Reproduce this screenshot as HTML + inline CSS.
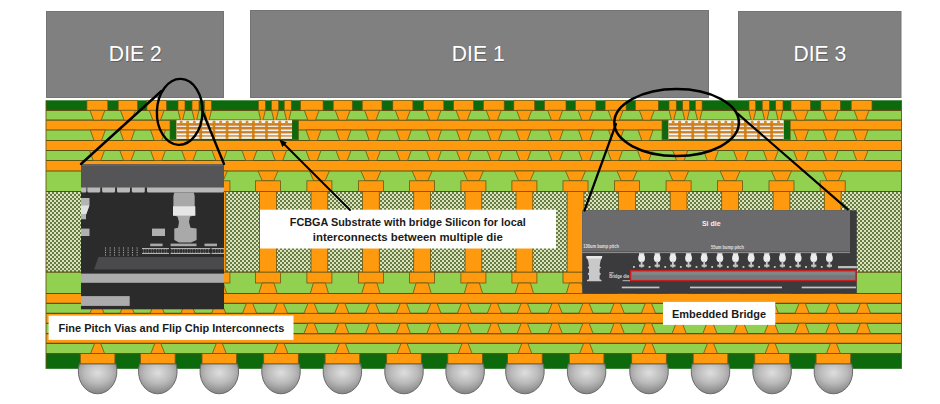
<!DOCTYPE html>
<html><head><meta charset="utf-8"><style>
html,body{margin:0;padding:0;background:#fff;overflow:hidden;width:940px;height:404px;}
svg{display:block;}
.die{font-family:"Liberation Sans",sans-serif;font-size:22.5px;}
.lbl{font-family:"Liberation Sans",sans-serif;font-size:11.8px;font-weight:bold;fill:#1a1a1a;}
.tiny{font-family:"Liberation Sans",sans-serif;}
</style></head><body>
<svg width="940" height="404" viewBox="0 0 940 404">
<defs>
<pattern id="chk" x="0" y="0" width="4" height="4" patternUnits="userSpaceOnUse">
<rect width="4" height="4" fill="#DAE2BE"/>
<rect width="2" height="2" fill="#667C42"/><rect x="2" y="2" width="2" height="2" fill="#667C42"/>
</pattern>
<radialGradient id="ball" cx="0.5" cy="0.3" r="0.65">
<stop offset="0" stop-color="#dedede"/><stop offset="0.55" stop-color="#b9b9b9"/><stop offset="1" stop-color="#8a8a8a"/>
</radialGradient>
</defs>
<rect width="940" height="404" fill="#fff"/>
<rect x="46.5" y="11.5" width="177" height="86" fill="#808080" stroke="#747474" stroke-width="1"/>
<rect x="250.5" y="10.5" width="458" height="87" fill="#808080" stroke="#747474" stroke-width="1"/>
<rect x="738.5" y="11.5" width="162.5" height="86" fill="#808080" stroke="#747474" stroke-width="1"/>
<text transform="translate(136.00,62.0) scale(0.94,1)" class="die" fill="#4a4a4a" fill-opacity="0.6" text-anchor="middle">DIE 2</text>
<text transform="translate(135.30,61.3) scale(0.94,1)" class="die" fill="#fff" text-anchor="middle">DIE 2</text>
<text transform="translate(478.90,62.0) scale(0.94,1)" class="die" fill="#4a4a4a" fill-opacity="0.6" text-anchor="middle">DIE 1</text>
<text transform="translate(478.20,61.3) scale(0.94,1)" class="die" fill="#fff" text-anchor="middle">DIE 1</text>
<text transform="translate(820.60,62.0) scale(0.94,1)" class="die" fill="#4a4a4a" fill-opacity="0.6" text-anchor="middle">DIE 3</text>
<text transform="translate(819.90,61.3) scale(0.94,1)" class="die" fill="#fff" text-anchor="middle">DIE 3</text>
<rect x="46.00" y="100.30" width="855.50" height="10.00" fill="#0C690C"/>
<rect x="46.00" y="110.30" width="855.50" height="9.90" fill="#92D050"/>
<rect x="46.00" y="120.20" width="855.50" height="9.80" fill="#FF9A0E"/>
<rect x="46.00" y="130.00" width="855.50" height="10.50" fill="#92D050"/>
<rect x="46.00" y="140.50" width="855.50" height="10.00" fill="#FF9A0E"/>
<rect x="46.00" y="150.50" width="855.50" height="10.00" fill="#92D050"/>
<rect x="46.00" y="160.50" width="855.50" height="10.50" fill="#FF9A0E"/>
<rect x="46.00" y="171.00" width="855.50" height="20.50" fill="#92D050"/>
<rect x="46.00" y="191.50" width="855.50" height="80.70" fill="url(#chk)"/>
<rect x="46.00" y="272.20" width="855.50" height="21.30" fill="#92D050"/>
<rect x="46.00" y="293.50" width="855.50" height="9.90" fill="#FF9A0E"/>
<rect x="46.00" y="303.40" width="855.50" height="10.00" fill="#92D050"/>
<rect x="46.00" y="313.40" width="855.50" height="9.90" fill="#FF9A0E"/>
<rect x="46.00" y="323.30" width="855.50" height="10.30" fill="#92D050"/>
<rect x="46.00" y="333.60" width="855.50" height="9.80" fill="#FF9A0E"/>
<rect x="46.00" y="343.40" width="855.50" height="10.20" fill="#92D050"/>
<rect x="46.00" y="353.60" width="855.50" height="15.20" fill="#0C690C"/>
<line x1="46.0" y1="110.3" x2="901.5" y2="110.3" stroke="#5E5210" stroke-width="1.2"/>
<line x1="46.0" y1="120.2" x2="901.5" y2="120.2" stroke="#5E5210" stroke-width="1.2"/>
<line x1="46.0" y1="130.0" x2="901.5" y2="130.0" stroke="#5E5210" stroke-width="1.2"/>
<line x1="46.0" y1="140.5" x2="901.5" y2="140.5" stroke="#5E5210" stroke-width="1.2"/>
<line x1="46.0" y1="150.5" x2="901.5" y2="150.5" stroke="#5E5210" stroke-width="1.2"/>
<line x1="46.0" y1="160.5" x2="901.5" y2="160.5" stroke="#5E5210" stroke-width="1.2"/>
<line x1="46.0" y1="171.0" x2="901.5" y2="171.0" stroke="#5E5210" stroke-width="1.2"/>
<line x1="46.0" y1="191.5" x2="901.5" y2="191.5" stroke="#5E5210" stroke-width="1.2"/>
<line x1="46.0" y1="272.2" x2="901.5" y2="272.2" stroke="#5E5210" stroke-width="1.2"/>
<line x1="46.0" y1="293.5" x2="901.5" y2="293.5" stroke="#5E5210" stroke-width="1.2"/>
<line x1="46.0" y1="303.4" x2="901.5" y2="303.4" stroke="#5E5210" stroke-width="1.2"/>
<line x1="46.0" y1="313.4" x2="901.5" y2="313.4" stroke="#5E5210" stroke-width="1.2"/>
<line x1="46.0" y1="323.3" x2="901.5" y2="323.3" stroke="#5E5210" stroke-width="1.2"/>
<line x1="46.0" y1="333.6" x2="901.5" y2="333.6" stroke="#5E5210" stroke-width="1.2"/>
<line x1="46.0" y1="343.4" x2="901.5" y2="343.4" stroke="#5E5210" stroke-width="1.2"/>
<line x1="46.0" y1="353.6" x2="901.5" y2="353.6" stroke="#5E5210" stroke-width="1.2"/>
<line x1="46.0" y1="100.3" x2="46.0" y2="368.8" stroke="#685812" stroke-width="0.9"/>
<line x1="901.5" y1="100.3" x2="901.5" y2="368.8" stroke="#685812" stroke-width="0.9"/>
<rect x="86.90" y="100.30" width="20.90" height="10.00" fill="#FF9A0E" stroke="#685812" stroke-width="0.7"/>
<rect x="118.20" y="100.30" width="19.40" height="10.00" fill="#FF9A0E" stroke="#685812" stroke-width="0.7"/>
<rect x="146.90" y="100.30" width="19.70" height="10.00" fill="#FF9A0E" stroke="#685812" stroke-width="0.7"/>
<rect x="178.00" y="100.30" width="7.00" height="10.00" fill="#FF9A0E" stroke="#685812" stroke-width="0.7"/>
<rect x="192.00" y="100.30" width="7.00" height="10.00" fill="#FF9A0E" stroke="#685812" stroke-width="0.7"/>
<rect x="204.50" y="100.30" width="7.00" height="10.00" fill="#FF9A0E" stroke="#685812" stroke-width="0.7"/>
<rect x="258.30" y="100.30" width="7.20" height="10.00" fill="#FF9A0E" stroke="#685812" stroke-width="0.7"/>
<rect x="271.30" y="100.30" width="7.40" height="10.00" fill="#FF9A0E" stroke="#685812" stroke-width="0.7"/>
<rect x="284.20" y="100.30" width="7.10" height="10.00" fill="#FF9A0E" stroke="#685812" stroke-width="0.7"/>
<rect x="300.40" y="100.30" width="22.70" height="10.00" fill="#FF9A0E" stroke="#685812" stroke-width="0.7"/>
<rect x="333.20" y="100.30" width="19.10" height="10.00" fill="#FF9A0E" stroke="#685812" stroke-width="0.7"/>
<rect x="362.20" y="100.30" width="19.80" height="10.00" fill="#FF9A0E" stroke="#685812" stroke-width="0.7"/>
<rect x="392.80" y="100.30" width="20.10" height="10.00" fill="#FF9A0E" stroke="#685812" stroke-width="0.7"/>
<rect x="423.30" y="100.30" width="20.50" height="10.00" fill="#FF9A0E" stroke="#685812" stroke-width="0.7"/>
<rect x="453.50" y="100.30" width="20.10" height="10.00" fill="#FF9A0E" stroke="#685812" stroke-width="0.7"/>
<rect x="483.30" y="100.30" width="20.90" height="10.00" fill="#FF9A0E" stroke="#685812" stroke-width="0.7"/>
<rect x="513.80" y="100.30" width="20.90" height="10.00" fill="#FF9A0E" stroke="#685812" stroke-width="0.7"/>
<rect x="544.50" y="100.30" width="21.50" height="10.00" fill="#FF9A0E" stroke="#685812" stroke-width="0.7"/>
<rect x="575.30" y="100.30" width="20.60" height="10.00" fill="#FF9A0E" stroke="#685812" stroke-width="0.7"/>
<rect x="605.10" y="100.30" width="21.00" height="10.00" fill="#FF9A0E" stroke="#685812" stroke-width="0.7"/>
<rect x="635.30" y="100.30" width="23.10" height="10.00" fill="#FF9A0E" stroke="#685812" stroke-width="0.7"/>
<rect x="669.00" y="100.30" width="7.30" height="10.00" fill="#FF9A0E" stroke="#685812" stroke-width="0.7"/>
<rect x="682.60" y="100.30" width="6.80" height="10.00" fill="#FF9A0E" stroke="#685812" stroke-width="0.7"/>
<rect x="695.30" y="100.30" width="6.80" height="10.00" fill="#FF9A0E" stroke="#685812" stroke-width="0.7"/>
<rect x="749.00" y="100.30" width="6.70" height="10.00" fill="#FF9A0E" stroke="#685812" stroke-width="0.7"/>
<rect x="762.20" y="100.30" width="7.20" height="10.00" fill="#FF9A0E" stroke="#685812" stroke-width="0.7"/>
<rect x="775.70" y="100.30" width="7.30" height="10.00" fill="#FF9A0E" stroke="#685812" stroke-width="0.7"/>
<rect x="791.00" y="100.30" width="19.40" height="10.00" fill="#FF9A0E" stroke="#685812" stroke-width="0.7"/>
<rect x="820.80" y="100.30" width="19.60" height="10.00" fill="#FF9A0E" stroke="#685812" stroke-width="0.7"/>
<rect x="851.20" y="100.30" width="20.80" height="10.00" fill="#FF9A0E" stroke="#685812" stroke-width="0.7"/>
<polygon points="89.90,110.30 104.90,110.30 101.15,120.20 93.65,120.20" fill="#FF9A0E" stroke="#685812" stroke-width="0.8"/>
<polygon points="120.40,110.30 135.40,110.30 131.65,120.20 124.15,120.20" fill="#FF9A0E" stroke="#685812" stroke-width="0.8"/>
<polygon points="149.20,110.30 164.20,110.30 160.45,120.20 152.95,120.20" fill="#FF9A0E" stroke="#685812" stroke-width="0.8"/>
<polygon points="304.20,110.30 319.20,110.30 315.45,120.20 307.95,120.20" fill="#FF9A0E" stroke="#685812" stroke-width="0.8"/>
<polygon points="335.20,110.30 350.20,110.30 346.45,120.20 338.95,120.20" fill="#FF9A0E" stroke="#685812" stroke-width="0.8"/>
<polygon points="364.60,110.30 379.60,110.30 375.85,120.20 368.35,120.20" fill="#FF9A0E" stroke="#685812" stroke-width="0.8"/>
<polygon points="395.30,110.30 410.30,110.30 406.55,120.20 399.05,120.20" fill="#FF9A0E" stroke="#685812" stroke-width="0.8"/>
<polygon points="426.00,110.30 441.00,110.30 437.25,120.20 429.75,120.20" fill="#FF9A0E" stroke="#685812" stroke-width="0.8"/>
<polygon points="456.00,110.30 471.00,110.30 467.25,120.20 459.75,120.20" fill="#FF9A0E" stroke="#685812" stroke-width="0.8"/>
<polygon points="486.20,110.30 501.20,110.30 497.45,120.20 489.95,120.20" fill="#FF9A0E" stroke="#685812" stroke-width="0.8"/>
<polygon points="516.70,110.30 531.70,110.30 527.95,120.20 520.45,120.20" fill="#FF9A0E" stroke="#685812" stroke-width="0.8"/>
<polygon points="547.70,110.30 562.70,110.30 558.95,120.20 551.45,120.20" fill="#FF9A0E" stroke="#685812" stroke-width="0.8"/>
<polygon points="578.10,110.30 593.10,110.30 589.35,120.20 581.85,120.20" fill="#FF9A0E" stroke="#685812" stroke-width="0.8"/>
<polygon points="608.10,110.30 623.10,110.30 619.35,120.20 611.85,120.20" fill="#FF9A0E" stroke="#685812" stroke-width="0.8"/>
<polygon points="639.30,110.30 654.30,110.30 650.55,120.20 643.05,120.20" fill="#FF9A0E" stroke="#685812" stroke-width="0.8"/>
<polygon points="793.20,110.30 808.20,110.30 804.45,120.20 796.95,120.20" fill="#FF9A0E" stroke="#685812" stroke-width="0.8"/>
<polygon points="823.10,110.30 838.10,110.30 834.35,120.20 826.85,120.20" fill="#FF9A0E" stroke="#685812" stroke-width="0.8"/>
<polygon points="854.10,110.30 869.10,110.30 865.35,120.20 857.85,120.20" fill="#FF9A0E" stroke="#685812" stroke-width="0.8"/>
<polygon points="178.00,110.30 185.00,110.30 182.25,121.50 180.75,121.50" fill="#FF9A0E" stroke="#685812" stroke-width="0.8"/>
<polygon points="192.00,110.30 199.00,110.30 196.25,121.50 194.75,121.50" fill="#FF9A0E" stroke="#685812" stroke-width="0.8"/>
<polygon points="204.50,110.30 211.50,110.30 208.75,121.50 207.25,121.50" fill="#FF9A0E" stroke="#685812" stroke-width="0.8"/>
<polygon points="258.40,110.30 265.40,110.30 262.65,121.50 261.15,121.50" fill="#FF9A0E" stroke="#685812" stroke-width="0.8"/>
<polygon points="271.50,110.30 278.50,110.30 275.75,121.50 274.25,121.50" fill="#FF9A0E" stroke="#685812" stroke-width="0.8"/>
<polygon points="284.20,110.30 291.20,110.30 288.45,121.50 286.95,121.50" fill="#FF9A0E" stroke="#685812" stroke-width="0.8"/>
<polygon points="669.10,110.30 676.10,110.30 673.35,121.50 671.85,121.50" fill="#FF9A0E" stroke="#685812" stroke-width="0.8"/>
<polygon points="682.50,110.30 689.50,110.30 686.75,121.50 685.25,121.50" fill="#FF9A0E" stroke="#685812" stroke-width="0.8"/>
<polygon points="695.20,110.30 702.20,110.30 699.45,121.50 697.95,121.50" fill="#FF9A0E" stroke="#685812" stroke-width="0.8"/>
<polygon points="748.80,110.30 755.80,110.30 753.05,121.50 751.55,121.50" fill="#FF9A0E" stroke="#685812" stroke-width="0.8"/>
<polygon points="762.30,110.30 769.30,110.30 766.55,121.50 765.05,121.50" fill="#FF9A0E" stroke="#685812" stroke-width="0.8"/>
<polygon points="775.80,110.30 782.80,110.30 780.05,121.50 778.55,121.50" fill="#FF9A0E" stroke="#685812" stroke-width="0.8"/>
<polygon points="90.30,130.00 105.30,130.00 101.55,140.50 94.05,140.50" fill="#FF9A0E" stroke="#685812" stroke-width="0.8"/>
<polygon points="119.80,130.00 134.80,130.00 131.05,140.50 123.55,140.50" fill="#FF9A0E" stroke="#685812" stroke-width="0.8"/>
<polygon points="150.50,130.00 165.50,130.00 161.75,140.50 154.25,140.50" fill="#FF9A0E" stroke="#685812" stroke-width="0.8"/>
<polygon points="306.00,130.00 321.00,130.00 317.25,140.50 309.75,140.50" fill="#FF9A0E" stroke="#685812" stroke-width="0.8"/>
<polygon points="336.00,130.00 351.00,130.00 347.25,140.50 339.75,140.50" fill="#FF9A0E" stroke="#685812" stroke-width="0.8"/>
<polygon points="365.50,130.00 380.50,130.00 376.75,140.50 369.25,140.50" fill="#FF9A0E" stroke="#685812" stroke-width="0.8"/>
<polygon points="396.30,130.00 411.30,130.00 407.55,140.50 400.05,140.50" fill="#FF9A0E" stroke="#685812" stroke-width="0.8"/>
<polygon points="426.50,130.00 441.50,130.00 437.75,140.50 430.25,140.50" fill="#FF9A0E" stroke="#685812" stroke-width="0.8"/>
<polygon points="456.50,130.00 471.50,130.00 467.75,140.50 460.25,140.50" fill="#FF9A0E" stroke="#685812" stroke-width="0.8"/>
<polygon points="487.20,130.00 502.20,130.00 498.45,140.50 490.95,140.50" fill="#FF9A0E" stroke="#685812" stroke-width="0.8"/>
<polygon points="516.10,130.00 531.10,130.00 527.35,140.50 519.85,140.50" fill="#FF9A0E" stroke="#685812" stroke-width="0.8"/>
<polygon points="548.20,130.00 563.20,130.00 559.45,140.50 551.95,140.50" fill="#FF9A0E" stroke="#685812" stroke-width="0.8"/>
<polygon points="578.50,130.00 593.50,130.00 589.75,140.50 582.25,140.50" fill="#FF9A0E" stroke="#685812" stroke-width="0.8"/>
<polygon points="608.50,130.00 623.50,130.00 619.75,140.50 612.25,140.50" fill="#FF9A0E" stroke="#685812" stroke-width="0.8"/>
<polygon points="638.10,130.00 653.10,130.00 649.35,140.50 641.85,140.50" fill="#FF9A0E" stroke="#685812" stroke-width="0.8"/>
<polygon points="793.50,130.00 808.50,130.00 804.75,140.50 797.25,140.50" fill="#FF9A0E" stroke="#685812" stroke-width="0.8"/>
<polygon points="823.00,130.00 838.00,130.00 834.25,140.50 826.75,140.50" fill="#FF9A0E" stroke="#685812" stroke-width="0.8"/>
<polygon points="853.00,130.00 868.00,130.00 864.25,140.50 856.75,140.50" fill="#FF9A0E" stroke="#685812" stroke-width="0.8"/>
<polygon points="89.50,150.50 104.50,150.50 100.75,160.50 93.25,160.50" fill="#FF9A0E" stroke="#685812" stroke-width="0.8"/>
<polygon points="119.80,150.50 134.80,150.50 131.05,160.50 123.55,160.50" fill="#FF9A0E" stroke="#685812" stroke-width="0.8"/>
<polygon points="150.50,150.50 165.50,150.50 161.75,160.50 154.25,160.50" fill="#FF9A0E" stroke="#685812" stroke-width="0.8"/>
<polygon points="181.70,150.50 196.70,150.50 192.95,160.50 185.45,160.50" fill="#FF9A0E" stroke="#685812" stroke-width="0.8"/>
<polygon points="212.00,150.50 227.00,150.50 223.25,160.50 215.75,160.50" fill="#FF9A0E" stroke="#685812" stroke-width="0.8"/>
<polygon points="241.90,150.50 256.90,150.50 253.15,160.50 245.65,160.50" fill="#FF9A0E" stroke="#685812" stroke-width="0.8"/>
<polygon points="271.50,150.50 286.50,150.50 282.75,160.50 275.25,160.50" fill="#FF9A0E" stroke="#685812" stroke-width="0.8"/>
<polygon points="306.00,150.50 321.00,150.50 317.25,160.50 309.75,160.50" fill="#FF9A0E" stroke="#685812" stroke-width="0.8"/>
<polygon points="336.00,150.50 351.00,150.50 347.25,160.50 339.75,160.50" fill="#FF9A0E" stroke="#685812" stroke-width="0.8"/>
<polygon points="365.50,150.50 380.50,150.50 376.75,160.50 369.25,160.50" fill="#FF9A0E" stroke="#685812" stroke-width="0.8"/>
<polygon points="396.30,150.50 411.30,150.50 407.55,160.50 400.05,160.50" fill="#FF9A0E" stroke="#685812" stroke-width="0.8"/>
<polygon points="426.50,150.50 441.50,150.50 437.75,160.50 430.25,160.50" fill="#FF9A0E" stroke="#685812" stroke-width="0.8"/>
<polygon points="456.50,150.50 471.50,150.50 467.75,160.50 460.25,160.50" fill="#FF9A0E" stroke="#685812" stroke-width="0.8"/>
<polygon points="487.20,150.50 502.20,150.50 498.45,160.50 490.95,160.50" fill="#FF9A0E" stroke="#685812" stroke-width="0.8"/>
<polygon points="516.10,150.50 531.10,150.50 527.35,160.50 519.85,160.50" fill="#FF9A0E" stroke="#685812" stroke-width="0.8"/>
<polygon points="548.20,150.50 563.20,150.50 559.45,160.50 551.95,160.50" fill="#FF9A0E" stroke="#685812" stroke-width="0.8"/>
<polygon points="578.50,150.50 593.50,150.50 589.75,160.50 582.25,160.50" fill="#FF9A0E" stroke="#685812" stroke-width="0.8"/>
<polygon points="607.50,150.50 622.50,150.50 618.75,160.50 611.25,160.50" fill="#FF9A0E" stroke="#685812" stroke-width="0.8"/>
<polygon points="637.50,150.50 652.50,150.50 648.75,160.50 641.25,160.50" fill="#FF9A0E" stroke="#685812" stroke-width="0.8"/>
<polygon points="672.80,150.50 687.80,150.50 684.05,160.50 676.55,160.50" fill="#FF9A0E" stroke="#685812" stroke-width="0.8"/>
<polygon points="703.50,150.50 718.50,150.50 714.75,160.50 707.25,160.50" fill="#FF9A0E" stroke="#685812" stroke-width="0.8"/>
<polygon points="733.50,150.50 748.50,150.50 744.75,160.50 737.25,160.50" fill="#FF9A0E" stroke="#685812" stroke-width="0.8"/>
<polygon points="763.30,150.50 778.30,150.50 774.55,160.50 767.05,160.50" fill="#FF9A0E" stroke="#685812" stroke-width="0.8"/>
<polygon points="793.50,150.50 808.50,150.50 804.75,160.50 797.25,160.50" fill="#FF9A0E" stroke="#685812" stroke-width="0.8"/>
<polygon points="823.00,150.50 838.00,150.50 834.25,160.50 826.75,160.50" fill="#FF9A0E" stroke="#685812" stroke-width="0.8"/>
<polygon points="853.00,150.50 868.00,150.50 864.25,160.50 856.75,160.50" fill="#FF9A0E" stroke="#685812" stroke-width="0.8"/>
<polygon points="207.40,171.00 227.40,171.00 223.10,180.80 211.70,180.80" fill="#FF9A0E" stroke="#685812" stroke-width="0.8"/>
<rect x="204.90" y="180.80" width="25.00" height="10.70" fill="#FF9A0E" stroke="#685812" stroke-width="0.8"/>
<rect x="209.00" y="191.50" width="16.80" height="80.70" fill="#FF9A0E" stroke="#685812" stroke-width="0.8"/>
<rect x="204.90" y="272.20" width="25.00" height="10.80" fill="#FF9A0E" stroke="#685812" stroke-width="0.8"/>
<polygon points="211.40,283.00 223.40,283.00 226.55,293.50 208.25,293.50" fill="#FF9A0E" stroke="#685812" stroke-width="0.8"/>
<polygon points="258.00,171.00 278.00,171.00 273.70,180.80 262.30,180.80" fill="#FF9A0E" stroke="#685812" stroke-width="0.8"/>
<rect x="255.50" y="180.80" width="25.00" height="10.70" fill="#FF9A0E" stroke="#685812" stroke-width="0.8"/>
<rect x="259.60" y="191.50" width="16.80" height="80.70" fill="#FF9A0E" stroke="#685812" stroke-width="0.8"/>
<rect x="255.50" y="272.20" width="25.00" height="10.80" fill="#FF9A0E" stroke="#685812" stroke-width="0.8"/>
<polygon points="262.00,283.00 274.00,283.00 277.15,293.50 258.85,293.50" fill="#FF9A0E" stroke="#685812" stroke-width="0.8"/>
<polygon points="309.40,171.00 329.40,171.00 325.10,180.80 313.70,180.80" fill="#FF9A0E" stroke="#685812" stroke-width="0.8"/>
<rect x="306.90" y="180.80" width="25.00" height="10.70" fill="#FF9A0E" stroke="#685812" stroke-width="0.8"/>
<rect x="311.00" y="191.50" width="16.80" height="80.70" fill="#FF9A0E" stroke="#685812" stroke-width="0.8"/>
<rect x="306.90" y="272.20" width="25.00" height="10.80" fill="#FF9A0E" stroke="#685812" stroke-width="0.8"/>
<polygon points="313.40,283.00 325.40,283.00 328.55,293.50 310.25,293.50" fill="#FF9A0E" stroke="#685812" stroke-width="0.8"/>
<polygon points="360.90,171.00 380.90,171.00 376.60,180.80 365.20,180.80" fill="#FF9A0E" stroke="#685812" stroke-width="0.8"/>
<rect x="358.40" y="180.80" width="25.00" height="10.70" fill="#FF9A0E" stroke="#685812" stroke-width="0.8"/>
<rect x="362.50" y="191.50" width="16.80" height="80.70" fill="#FF9A0E" stroke="#685812" stroke-width="0.8"/>
<rect x="358.40" y="272.20" width="25.00" height="10.80" fill="#FF9A0E" stroke="#685812" stroke-width="0.8"/>
<polygon points="364.90,283.00 376.90,283.00 380.05,293.50 361.75,293.50" fill="#FF9A0E" stroke="#685812" stroke-width="0.8"/>
<polygon points="412.10,171.00 432.10,171.00 427.80,180.80 416.40,180.80" fill="#FF9A0E" stroke="#685812" stroke-width="0.8"/>
<rect x="409.60" y="180.80" width="25.00" height="10.70" fill="#FF9A0E" stroke="#685812" stroke-width="0.8"/>
<rect x="413.70" y="191.50" width="16.80" height="80.70" fill="#FF9A0E" stroke="#685812" stroke-width="0.8"/>
<rect x="409.60" y="272.20" width="25.00" height="10.80" fill="#FF9A0E" stroke="#685812" stroke-width="0.8"/>
<polygon points="416.10,283.00 428.10,283.00 431.25,293.50 412.95,293.50" fill="#FF9A0E" stroke="#685812" stroke-width="0.8"/>
<polygon points="463.40,171.00 483.40,171.00 479.10,180.80 467.70,180.80" fill="#FF9A0E" stroke="#685812" stroke-width="0.8"/>
<rect x="460.90" y="180.80" width="25.00" height="10.70" fill="#FF9A0E" stroke="#685812" stroke-width="0.8"/>
<rect x="465.00" y="191.50" width="16.80" height="80.70" fill="#FF9A0E" stroke="#685812" stroke-width="0.8"/>
<rect x="460.90" y="272.20" width="25.00" height="10.80" fill="#FF9A0E" stroke="#685812" stroke-width="0.8"/>
<polygon points="467.40,283.00 479.40,283.00 482.55,293.50 464.25,293.50" fill="#FF9A0E" stroke="#685812" stroke-width="0.8"/>
<polygon points="514.40,171.00 534.40,171.00 530.10,180.80 518.70,180.80" fill="#FF9A0E" stroke="#685812" stroke-width="0.8"/>
<rect x="511.90" y="180.80" width="25.00" height="10.70" fill="#FF9A0E" stroke="#685812" stroke-width="0.8"/>
<rect x="516.00" y="191.50" width="16.80" height="80.70" fill="#FF9A0E" stroke="#685812" stroke-width="0.8"/>
<rect x="511.90" y="272.20" width="25.00" height="10.80" fill="#FF9A0E" stroke="#685812" stroke-width="0.8"/>
<polygon points="518.40,283.00 530.40,283.00 533.55,293.50 515.25,293.50" fill="#FF9A0E" stroke="#685812" stroke-width="0.8"/>
<polygon points="565.50,171.00 585.50,171.00 581.20,180.80 569.80,180.80" fill="#FF9A0E" stroke="#685812" stroke-width="0.8"/>
<rect x="563.00" y="180.80" width="25.00" height="10.70" fill="#FF9A0E" stroke="#685812" stroke-width="0.8"/>
<rect x="567.10" y="191.50" width="16.80" height="80.70" fill="#FF9A0E" stroke="#685812" stroke-width="0.8"/>
<rect x="563.00" y="272.20" width="25.00" height="10.80" fill="#FF9A0E" stroke="#685812" stroke-width="0.8"/>
<polygon points="569.50,283.00 581.50,283.00 584.65,293.50 566.35,293.50" fill="#FF9A0E" stroke="#685812" stroke-width="0.8"/>
<polygon points="617.00,171.00 637.00,171.00 632.70,180.80 621.30,180.80" fill="#FF9A0E" stroke="#685812" stroke-width="0.8"/>
<rect x="614.50" y="180.80" width="25.00" height="10.70" fill="#FF9A0E" stroke="#685812" stroke-width="0.8"/>
<rect x="618.60" y="191.50" width="16.80" height="80.70" fill="#FF9A0E" stroke="#685812" stroke-width="0.8"/>
<rect x="614.50" y="272.20" width="25.00" height="10.80" fill="#FF9A0E" stroke="#685812" stroke-width="0.8"/>
<polygon points="621.00,283.00 633.00,283.00 636.15,293.50 617.85,293.50" fill="#FF9A0E" stroke="#685812" stroke-width="0.8"/>
<polygon points="668.60,171.00 688.60,171.00 684.30,180.80 672.90,180.80" fill="#FF9A0E" stroke="#685812" stroke-width="0.8"/>
<rect x="666.10" y="180.80" width="25.00" height="10.70" fill="#FF9A0E" stroke="#685812" stroke-width="0.8"/>
<rect x="670.20" y="191.50" width="16.80" height="80.70" fill="#FF9A0E" stroke="#685812" stroke-width="0.8"/>
<rect x="666.10" y="272.20" width="25.00" height="10.80" fill="#FF9A0E" stroke="#685812" stroke-width="0.8"/>
<polygon points="672.60,283.00 684.60,283.00 687.75,293.50 669.45,293.50" fill="#FF9A0E" stroke="#685812" stroke-width="0.8"/>
<polygon points="720.10,171.00 740.10,171.00 735.80,180.80 724.40,180.80" fill="#FF9A0E" stroke="#685812" stroke-width="0.8"/>
<rect x="717.60" y="180.80" width="25.00" height="10.70" fill="#FF9A0E" stroke="#685812" stroke-width="0.8"/>
<rect x="721.70" y="191.50" width="16.80" height="80.70" fill="#FF9A0E" stroke="#685812" stroke-width="0.8"/>
<rect x="717.60" y="272.20" width="25.00" height="10.80" fill="#FF9A0E" stroke="#685812" stroke-width="0.8"/>
<polygon points="724.10,283.00 736.10,283.00 739.25,293.50 720.95,293.50" fill="#FF9A0E" stroke="#685812" stroke-width="0.8"/>
<polygon points="771.50,171.00 791.50,171.00 787.20,180.80 775.80,180.80" fill="#FF9A0E" stroke="#685812" stroke-width="0.8"/>
<rect x="769.00" y="180.80" width="25.00" height="10.70" fill="#FF9A0E" stroke="#685812" stroke-width="0.8"/>
<rect x="773.10" y="191.50" width="16.80" height="80.70" fill="#FF9A0E" stroke="#685812" stroke-width="0.8"/>
<rect x="769.00" y="272.20" width="25.00" height="10.80" fill="#FF9A0E" stroke="#685812" stroke-width="0.8"/>
<polygon points="775.50,283.00 787.50,283.00 790.65,293.50 772.35,293.50" fill="#FF9A0E" stroke="#685812" stroke-width="0.8"/>
<polygon points="822.70,171.00 842.70,171.00 838.40,180.80 827.00,180.80" fill="#FF9A0E" stroke="#685812" stroke-width="0.8"/>
<rect x="820.20" y="180.80" width="25.00" height="10.70" fill="#FF9A0E" stroke="#685812" stroke-width="0.8"/>
<rect x="824.30" y="191.50" width="16.80" height="80.70" fill="#FF9A0E" stroke="#685812" stroke-width="0.8"/>
<rect x="820.20" y="272.20" width="25.00" height="10.80" fill="#FF9A0E" stroke="#685812" stroke-width="0.8"/>
<polygon points="826.70,283.00 838.70,283.00 841.85,293.50 823.55,293.50" fill="#FF9A0E" stroke="#685812" stroke-width="0.8"/>
<polygon points="93.90,303.40 100.10,303.40 104.15,313.40 89.85,313.40" fill="#FF9A0E" stroke="#685812" stroke-width="0.8"/>
<polygon points="93.90,323.30 100.10,323.30 104.15,333.60 89.85,333.60" fill="#FF9A0E" stroke="#685812" stroke-width="0.8"/>
<polygon points="124.00,303.40 130.20,303.40 134.25,313.40 119.95,313.40" fill="#FF9A0E" stroke="#685812" stroke-width="0.8"/>
<polygon points="124.00,323.30 130.20,323.30 134.25,333.60 119.95,333.60" fill="#FF9A0E" stroke="#685812" stroke-width="0.8"/>
<polygon points="154.10,303.40 160.30,303.40 164.35,313.40 150.05,313.40" fill="#FF9A0E" stroke="#685812" stroke-width="0.8"/>
<polygon points="154.10,323.30 160.30,323.30 164.35,333.60 150.05,333.60" fill="#FF9A0E" stroke="#685812" stroke-width="0.8"/>
<polygon points="184.85,303.40 191.05,303.40 195.10,313.40 180.80,313.40" fill="#FF9A0E" stroke="#685812" stroke-width="0.8"/>
<polygon points="184.85,323.30 191.05,323.30 195.10,333.60 180.80,333.60" fill="#FF9A0E" stroke="#685812" stroke-width="0.8"/>
<polygon points="215.60,303.40 221.80,303.40 225.85,313.40 211.55,313.40" fill="#FF9A0E" stroke="#685812" stroke-width="0.8"/>
<polygon points="215.60,323.30 221.80,323.30 225.85,333.60 211.55,333.60" fill="#FF9A0E" stroke="#685812" stroke-width="0.8"/>
<polygon points="246.45,303.40 252.65,303.40 256.70,313.40 242.40,313.40" fill="#FF9A0E" stroke="#685812" stroke-width="0.8"/>
<polygon points="246.45,323.30 252.65,323.30 256.70,333.60 242.40,333.60" fill="#FF9A0E" stroke="#685812" stroke-width="0.8"/>
<polygon points="277.30,303.40 283.50,303.40 287.55,313.40 273.25,313.40" fill="#FF9A0E" stroke="#685812" stroke-width="0.8"/>
<polygon points="277.30,323.30 283.50,323.30 287.55,333.60 273.25,333.60" fill="#FF9A0E" stroke="#685812" stroke-width="0.8"/>
<polygon points="308.00,303.40 314.20,303.40 318.25,313.40 303.95,313.40" fill="#FF9A0E" stroke="#685812" stroke-width="0.8"/>
<polygon points="308.00,323.30 314.20,323.30 318.25,333.60 303.95,333.60" fill="#FF9A0E" stroke="#685812" stroke-width="0.8"/>
<polygon points="338.70,303.40 344.90,303.40 348.95,313.40 334.65,313.40" fill="#FF9A0E" stroke="#685812" stroke-width="0.8"/>
<polygon points="338.70,323.30 344.90,323.30 348.95,333.60 334.65,333.60" fill="#FF9A0E" stroke="#685812" stroke-width="0.8"/>
<polygon points="369.50,303.40 375.70,303.40 379.75,313.40 365.45,313.40" fill="#FF9A0E" stroke="#685812" stroke-width="0.8"/>
<polygon points="369.50,323.30 375.70,323.30 379.75,333.60 365.45,333.60" fill="#FF9A0E" stroke="#685812" stroke-width="0.8"/>
<polygon points="400.30,303.40 406.50,303.40 410.55,313.40 396.25,313.40" fill="#FF9A0E" stroke="#685812" stroke-width="0.8"/>
<polygon points="400.30,323.30 406.50,323.30 410.55,333.60 396.25,333.60" fill="#FF9A0E" stroke="#685812" stroke-width="0.8"/>
<polygon points="430.85,303.40 437.05,303.40 441.10,313.40 426.80,313.40" fill="#FF9A0E" stroke="#685812" stroke-width="0.8"/>
<polygon points="430.85,323.30 437.05,323.30 441.10,333.60 426.80,333.60" fill="#FF9A0E" stroke="#685812" stroke-width="0.8"/>
<polygon points="461.40,303.40 467.60,303.40 471.65,313.40 457.35,313.40" fill="#FF9A0E" stroke="#685812" stroke-width="0.8"/>
<polygon points="461.40,323.30 467.60,323.30 471.65,333.60 457.35,333.60" fill="#FF9A0E" stroke="#685812" stroke-width="0.8"/>
<polygon points="491.30,303.40 497.50,303.40 501.55,313.40 487.25,313.40" fill="#FF9A0E" stroke="#685812" stroke-width="0.8"/>
<polygon points="491.30,323.30 497.50,323.30 501.55,333.60 487.25,333.60" fill="#FF9A0E" stroke="#685812" stroke-width="0.8"/>
<polygon points="521.20,303.40 527.40,303.40 531.45,313.40 517.15,313.40" fill="#FF9A0E" stroke="#685812" stroke-width="0.8"/>
<polygon points="521.20,323.30 527.40,323.30 531.45,333.60 517.15,333.60" fill="#FF9A0E" stroke="#685812" stroke-width="0.8"/>
<polygon points="552.05,303.40 558.25,303.40 562.30,313.40 548.00,313.40" fill="#FF9A0E" stroke="#685812" stroke-width="0.8"/>
<polygon points="552.05,323.30 558.25,323.30 562.30,333.60 548.00,333.60" fill="#FF9A0E" stroke="#685812" stroke-width="0.8"/>
<polygon points="582.90,303.40 589.10,303.40 593.15,313.40 578.85,313.40" fill="#FF9A0E" stroke="#685812" stroke-width="0.8"/>
<polygon points="582.90,323.30 589.10,323.30 593.15,333.60 578.85,333.60" fill="#FF9A0E" stroke="#685812" stroke-width="0.8"/>
<polygon points="614.10,303.40 620.30,303.40 624.35,313.40 610.05,313.40" fill="#FF9A0E" stroke="#685812" stroke-width="0.8"/>
<polygon points="614.10,323.30 620.30,323.30 624.35,333.60 610.05,333.60" fill="#FF9A0E" stroke="#685812" stroke-width="0.8"/>
<polygon points="645.30,303.40 651.50,303.40 655.55,313.40 641.25,313.40" fill="#FF9A0E" stroke="#685812" stroke-width="0.8"/>
<polygon points="645.30,323.30 651.50,323.30 655.55,333.60 641.25,333.60" fill="#FF9A0E" stroke="#685812" stroke-width="0.8"/>
<polygon points="676.05,303.40 682.25,303.40 686.30,313.40 672.00,313.40" fill="#FF9A0E" stroke="#685812" stroke-width="0.8"/>
<polygon points="676.05,323.30 682.25,323.30 686.30,333.60 672.00,333.60" fill="#FF9A0E" stroke="#685812" stroke-width="0.8"/>
<polygon points="706.80,303.40 713.00,303.40 717.05,313.40 702.75,313.40" fill="#FF9A0E" stroke="#685812" stroke-width="0.8"/>
<polygon points="706.80,323.30 713.00,323.30 717.05,333.60 702.75,333.60" fill="#FF9A0E" stroke="#685812" stroke-width="0.8"/>
<polygon points="737.60,303.40 743.80,303.40 747.85,313.40 733.55,313.40" fill="#FF9A0E" stroke="#685812" stroke-width="0.8"/>
<polygon points="737.60,323.30 743.80,323.30 747.85,333.60 733.55,333.60" fill="#FF9A0E" stroke="#685812" stroke-width="0.8"/>
<polygon points="768.40,303.40 774.60,303.40 778.65,313.40 764.35,313.40" fill="#FF9A0E" stroke="#685812" stroke-width="0.8"/>
<polygon points="768.40,323.30 774.60,323.30 778.65,333.60 764.35,333.60" fill="#FF9A0E" stroke="#685812" stroke-width="0.8"/>
<polygon points="799.05,303.40 805.25,303.40 809.30,313.40 795.00,313.40" fill="#FF9A0E" stroke="#685812" stroke-width="0.8"/>
<polygon points="799.05,323.30 805.25,323.30 809.30,333.60 795.00,333.60" fill="#FF9A0E" stroke="#685812" stroke-width="0.8"/>
<polygon points="829.70,303.40 835.90,303.40 839.95,313.40 825.65,313.40" fill="#FF9A0E" stroke="#685812" stroke-width="0.8"/>
<polygon points="829.70,323.30 835.90,323.30 839.95,333.60 825.65,333.60" fill="#FF9A0E" stroke="#685812" stroke-width="0.8"/>
<polygon points="860.40,303.40 866.60,303.40 870.65,313.40 856.35,313.40" fill="#FF9A0E" stroke="#685812" stroke-width="0.8"/>
<polygon points="860.40,323.30 866.60,323.30 870.65,333.60 856.35,333.60" fill="#FF9A0E" stroke="#685812" stroke-width="0.8"/>
<polygon points="94.60,343.40 100.60,343.40 104.60,353.60 90.60,353.60" fill="#FF9A0E" stroke="#685812" stroke-width="0.8"/>
<rect x="80.30" y="353.60" width="34.60" height="10.20" fill="#FF9A0E" stroke="#685812" stroke-width="0.8"/>
<polygon points="154.80,343.40 160.80,343.40 164.80,353.60 150.80,353.60" fill="#FF9A0E" stroke="#685812" stroke-width="0.8"/>
<rect x="140.50" y="353.60" width="34.60" height="10.20" fill="#FF9A0E" stroke="#685812" stroke-width="0.8"/>
<polygon points="216.30,343.40 222.30,343.40 226.30,353.60 212.30,353.60" fill="#FF9A0E" stroke="#685812" stroke-width="0.8"/>
<rect x="202.00" y="353.60" width="34.60" height="10.20" fill="#FF9A0E" stroke="#685812" stroke-width="0.8"/>
<polygon points="278.00,343.40 284.00,343.40 288.00,353.60 274.00,353.60" fill="#FF9A0E" stroke="#685812" stroke-width="0.8"/>
<rect x="263.70" y="353.60" width="34.60" height="10.20" fill="#FF9A0E" stroke="#685812" stroke-width="0.8"/>
<polygon points="339.40,343.40 345.40,343.40 349.40,353.60 335.40,353.60" fill="#FF9A0E" stroke="#685812" stroke-width="0.8"/>
<rect x="325.10" y="353.60" width="34.60" height="10.20" fill="#FF9A0E" stroke="#685812" stroke-width="0.8"/>
<polygon points="401.00,343.40 407.00,343.40 411.00,353.60 397.00,353.60" fill="#FF9A0E" stroke="#685812" stroke-width="0.8"/>
<rect x="386.70" y="353.60" width="34.60" height="10.20" fill="#FF9A0E" stroke="#685812" stroke-width="0.8"/>
<polygon points="462.10,343.40 468.10,343.40 472.10,353.60 458.10,353.60" fill="#FF9A0E" stroke="#685812" stroke-width="0.8"/>
<rect x="447.80" y="353.60" width="34.60" height="10.20" fill="#FF9A0E" stroke="#685812" stroke-width="0.8"/>
<polygon points="521.90,343.40 527.90,343.40 531.90,353.60 517.90,353.60" fill="#FF9A0E" stroke="#685812" stroke-width="0.8"/>
<rect x="507.60" y="353.60" width="34.60" height="10.20" fill="#FF9A0E" stroke="#685812" stroke-width="0.8"/>
<polygon points="583.60,343.40 589.60,343.40 593.60,353.60 579.60,353.60" fill="#FF9A0E" stroke="#685812" stroke-width="0.8"/>
<rect x="569.30" y="353.60" width="34.60" height="10.20" fill="#FF9A0E" stroke="#685812" stroke-width="0.8"/>
<polygon points="646.00,343.40 652.00,343.40 656.00,353.60 642.00,353.60" fill="#FF9A0E" stroke="#685812" stroke-width="0.8"/>
<rect x="631.70" y="353.60" width="34.60" height="10.20" fill="#FF9A0E" stroke="#685812" stroke-width="0.8"/>
<polygon points="707.50,343.40 713.50,343.40 717.50,353.60 703.50,353.60" fill="#FF9A0E" stroke="#685812" stroke-width="0.8"/>
<rect x="693.20" y="353.60" width="34.60" height="10.20" fill="#FF9A0E" stroke="#685812" stroke-width="0.8"/>
<polygon points="769.10,343.40 775.10,343.40 779.10,353.60 765.10,353.60" fill="#FF9A0E" stroke="#685812" stroke-width="0.8"/>
<rect x="754.80" y="353.60" width="34.60" height="10.20" fill="#FF9A0E" stroke="#685812" stroke-width="0.8"/>
<polygon points="830.40,343.40 836.40,343.40 840.40,353.60 826.40,353.60" fill="#FF9A0E" stroke="#685812" stroke-width="0.8"/>
<rect x="816.10" y="353.60" width="34.60" height="10.20" fill="#FF9A0E" stroke="#685812" stroke-width="0.8"/>
<rect x="170.00" y="120.20" width="6.50" height="19.60" fill="#0C690C" stroke="#685812" stroke-width="0.6"/>
<rect x="292.00" y="120.20" width="6.50" height="19.60" fill="#0C690C" stroke="#685812" stroke-width="0.6"/>
<rect x="176.50" y="120.20" width="115.50" height="19.60" fill="#f6f3ea"/>
<rect x="176.50" y="123.10" width="115.50" height="2.60" fill="#C8822F"/>
<rect x="176.50" y="126.90" width="115.50" height="2.60" fill="#C8822F"/>
<rect x="176.50" y="131.10" width="115.50" height="2.30" fill="#C8822F"/>
<rect x="176.50" y="135.30" width="115.50" height="1.30" fill="#C8822F"/>
<rect x="176.50" y="138.90" width="115.50" height="1.20" fill="#2f5a14"/>
<rect x="186.30" y="121.50" width="2.60" height="17.40" fill="#D58418"/>
<ellipse cx="187.60" cy="124.4" rx="1.8" ry="1.1" fill="#D07E14"/>
<ellipse cx="187.60" cy="128.2" rx="1.8" ry="1.1" fill="#D07E14"/>
<ellipse cx="187.60" cy="132.2" rx="1.8" ry="1.1" fill="#D07E14"/>
<ellipse cx="187.60" cy="136" rx="1.8" ry="1.1" fill="#D07E14"/>
<rect x="199.45" y="121.50" width="2.60" height="17.40" fill="#D58418"/>
<ellipse cx="200.75" cy="124.4" rx="1.8" ry="1.1" fill="#D07E14"/>
<ellipse cx="200.75" cy="128.2" rx="1.8" ry="1.1" fill="#D07E14"/>
<ellipse cx="200.75" cy="132.2" rx="1.8" ry="1.1" fill="#D07E14"/>
<ellipse cx="200.75" cy="136" rx="1.8" ry="1.1" fill="#D07E14"/>
<rect x="212.60" y="121.50" width="2.60" height="17.40" fill="#D58418"/>
<ellipse cx="213.90" cy="124.4" rx="1.8" ry="1.1" fill="#D07E14"/>
<ellipse cx="213.90" cy="128.2" rx="1.8" ry="1.1" fill="#D07E14"/>
<ellipse cx="213.90" cy="132.2" rx="1.8" ry="1.1" fill="#D07E14"/>
<ellipse cx="213.90" cy="136" rx="1.8" ry="1.1" fill="#D07E14"/>
<rect x="225.75" y="121.50" width="2.60" height="17.40" fill="#D58418"/>
<ellipse cx="227.05" cy="124.4" rx="1.8" ry="1.1" fill="#D07E14"/>
<ellipse cx="227.05" cy="128.2" rx="1.8" ry="1.1" fill="#D07E14"/>
<ellipse cx="227.05" cy="132.2" rx="1.8" ry="1.1" fill="#D07E14"/>
<ellipse cx="227.05" cy="136" rx="1.8" ry="1.1" fill="#D07E14"/>
<rect x="238.90" y="121.50" width="2.60" height="17.40" fill="#D58418"/>
<ellipse cx="240.20" cy="124.4" rx="1.8" ry="1.1" fill="#D07E14"/>
<ellipse cx="240.20" cy="128.2" rx="1.8" ry="1.1" fill="#D07E14"/>
<ellipse cx="240.20" cy="132.2" rx="1.8" ry="1.1" fill="#D07E14"/>
<ellipse cx="240.20" cy="136" rx="1.8" ry="1.1" fill="#D07E14"/>
<rect x="252.05" y="121.50" width="2.60" height="17.40" fill="#D58418"/>
<ellipse cx="253.35" cy="124.4" rx="1.8" ry="1.1" fill="#D07E14"/>
<ellipse cx="253.35" cy="128.2" rx="1.8" ry="1.1" fill="#D07E14"/>
<ellipse cx="253.35" cy="132.2" rx="1.8" ry="1.1" fill="#D07E14"/>
<ellipse cx="253.35" cy="136" rx="1.8" ry="1.1" fill="#D07E14"/>
<rect x="265.20" y="121.50" width="2.60" height="17.40" fill="#D58418"/>
<ellipse cx="266.50" cy="124.4" rx="1.8" ry="1.1" fill="#D07E14"/>
<ellipse cx="266.50" cy="128.2" rx="1.8" ry="1.1" fill="#D07E14"/>
<ellipse cx="266.50" cy="132.2" rx="1.8" ry="1.1" fill="#D07E14"/>
<ellipse cx="266.50" cy="136" rx="1.8" ry="1.1" fill="#D07E14"/>
<rect x="278.35" y="121.50" width="2.60" height="17.40" fill="#D58418"/>
<ellipse cx="279.65" cy="124.4" rx="1.8" ry="1.1" fill="#D07E14"/>
<ellipse cx="279.65" cy="128.2" rx="1.8" ry="1.1" fill="#D07E14"/>
<ellipse cx="279.65" cy="132.2" rx="1.8" ry="1.1" fill="#D07E14"/>
<ellipse cx="279.65" cy="136" rx="1.8" ry="1.1" fill="#D07E14"/>
<circle cx="181.20" cy="121.9" r="1.5" fill="#D88A1E"/>
<circle cx="187.78" cy="121.9" r="1.5" fill="#D88A1E"/>
<circle cx="194.36" cy="121.9" r="1.5" fill="#D88A1E"/>
<circle cx="200.94" cy="121.9" r="1.5" fill="#D88A1E"/>
<circle cx="207.52" cy="121.9" r="1.5" fill="#D88A1E"/>
<circle cx="214.10" cy="121.9" r="1.5" fill="#D88A1E"/>
<circle cx="220.68" cy="121.9" r="1.5" fill="#D88A1E"/>
<circle cx="227.26" cy="121.9" r="1.5" fill="#D88A1E"/>
<circle cx="233.84" cy="121.9" r="1.5" fill="#D88A1E"/>
<circle cx="240.42" cy="121.9" r="1.5" fill="#D88A1E"/>
<circle cx="247.00" cy="121.9" r="1.5" fill="#D88A1E"/>
<circle cx="253.58" cy="121.9" r="1.5" fill="#D88A1E"/>
<circle cx="260.16" cy="121.9" r="1.5" fill="#D88A1E"/>
<circle cx="266.74" cy="121.9" r="1.5" fill="#D88A1E"/>
<circle cx="273.32" cy="121.9" r="1.5" fill="#D88A1E"/>
<circle cx="279.90" cy="121.9" r="1.5" fill="#D88A1E"/>
<circle cx="286.48" cy="121.9" r="1.5" fill="#D88A1E"/>
<rect x="662.00" y="120.20" width="6.50" height="19.60" fill="#0C690C" stroke="#685812" stroke-width="0.6"/>
<rect x="783.70" y="120.20" width="6.50" height="19.60" fill="#0C690C" stroke="#685812" stroke-width="0.6"/>
<rect x="668.50" y="120.20" width="115.20" height="19.60" fill="#f6f3ea"/>
<rect x="668.50" y="123.10" width="115.20" height="2.60" fill="#C8822F"/>
<rect x="668.50" y="126.90" width="115.20" height="2.60" fill="#C8822F"/>
<rect x="668.50" y="131.10" width="115.20" height="2.30" fill="#C8822F"/>
<rect x="668.50" y="135.30" width="115.20" height="1.30" fill="#C8822F"/>
<rect x="668.50" y="138.90" width="115.20" height="1.20" fill="#2f5a14"/>
<rect x="678.30" y="121.50" width="2.60" height="17.40" fill="#D58418"/>
<ellipse cx="679.60" cy="124.4" rx="1.8" ry="1.1" fill="#D07E14"/>
<ellipse cx="679.60" cy="128.2" rx="1.8" ry="1.1" fill="#D07E14"/>
<ellipse cx="679.60" cy="132.2" rx="1.8" ry="1.1" fill="#D07E14"/>
<ellipse cx="679.60" cy="136" rx="1.8" ry="1.1" fill="#D07E14"/>
<rect x="691.45" y="121.50" width="2.60" height="17.40" fill="#D58418"/>
<ellipse cx="692.75" cy="124.4" rx="1.8" ry="1.1" fill="#D07E14"/>
<ellipse cx="692.75" cy="128.2" rx="1.8" ry="1.1" fill="#D07E14"/>
<ellipse cx="692.75" cy="132.2" rx="1.8" ry="1.1" fill="#D07E14"/>
<ellipse cx="692.75" cy="136" rx="1.8" ry="1.1" fill="#D07E14"/>
<rect x="704.60" y="121.50" width="2.60" height="17.40" fill="#D58418"/>
<ellipse cx="705.90" cy="124.4" rx="1.8" ry="1.1" fill="#D07E14"/>
<ellipse cx="705.90" cy="128.2" rx="1.8" ry="1.1" fill="#D07E14"/>
<ellipse cx="705.90" cy="132.2" rx="1.8" ry="1.1" fill="#D07E14"/>
<ellipse cx="705.90" cy="136" rx="1.8" ry="1.1" fill="#D07E14"/>
<rect x="717.75" y="121.50" width="2.60" height="17.40" fill="#D58418"/>
<ellipse cx="719.05" cy="124.4" rx="1.8" ry="1.1" fill="#D07E14"/>
<ellipse cx="719.05" cy="128.2" rx="1.8" ry="1.1" fill="#D07E14"/>
<ellipse cx="719.05" cy="132.2" rx="1.8" ry="1.1" fill="#D07E14"/>
<ellipse cx="719.05" cy="136" rx="1.8" ry="1.1" fill="#D07E14"/>
<rect x="730.90" y="121.50" width="2.60" height="17.40" fill="#D58418"/>
<ellipse cx="732.20" cy="124.4" rx="1.8" ry="1.1" fill="#D07E14"/>
<ellipse cx="732.20" cy="128.2" rx="1.8" ry="1.1" fill="#D07E14"/>
<ellipse cx="732.20" cy="132.2" rx="1.8" ry="1.1" fill="#D07E14"/>
<ellipse cx="732.20" cy="136" rx="1.8" ry="1.1" fill="#D07E14"/>
<rect x="744.05" y="121.50" width="2.60" height="17.40" fill="#D58418"/>
<ellipse cx="745.35" cy="124.4" rx="1.8" ry="1.1" fill="#D07E14"/>
<ellipse cx="745.35" cy="128.2" rx="1.8" ry="1.1" fill="#D07E14"/>
<ellipse cx="745.35" cy="132.2" rx="1.8" ry="1.1" fill="#D07E14"/>
<ellipse cx="745.35" cy="136" rx="1.8" ry="1.1" fill="#D07E14"/>
<rect x="757.20" y="121.50" width="2.60" height="17.40" fill="#D58418"/>
<ellipse cx="758.50" cy="124.4" rx="1.8" ry="1.1" fill="#D07E14"/>
<ellipse cx="758.50" cy="128.2" rx="1.8" ry="1.1" fill="#D07E14"/>
<ellipse cx="758.50" cy="132.2" rx="1.8" ry="1.1" fill="#D07E14"/>
<ellipse cx="758.50" cy="136" rx="1.8" ry="1.1" fill="#D07E14"/>
<rect x="770.35" y="121.50" width="2.60" height="17.40" fill="#D58418"/>
<ellipse cx="771.65" cy="124.4" rx="1.8" ry="1.1" fill="#D07E14"/>
<ellipse cx="771.65" cy="128.2" rx="1.8" ry="1.1" fill="#D07E14"/>
<ellipse cx="771.65" cy="132.2" rx="1.8" ry="1.1" fill="#D07E14"/>
<ellipse cx="771.65" cy="136" rx="1.8" ry="1.1" fill="#D07E14"/>
<circle cx="673.20" cy="121.9" r="1.5" fill="#D88A1E"/>
<circle cx="679.78" cy="121.9" r="1.5" fill="#D88A1E"/>
<circle cx="686.36" cy="121.9" r="1.5" fill="#D88A1E"/>
<circle cx="692.94" cy="121.9" r="1.5" fill="#D88A1E"/>
<circle cx="699.52" cy="121.9" r="1.5" fill="#D88A1E"/>
<circle cx="706.10" cy="121.9" r="1.5" fill="#D88A1E"/>
<circle cx="712.68" cy="121.9" r="1.5" fill="#D88A1E"/>
<circle cx="719.26" cy="121.9" r="1.5" fill="#D88A1E"/>
<circle cx="725.84" cy="121.9" r="1.5" fill="#D88A1E"/>
<circle cx="732.42" cy="121.9" r="1.5" fill="#D88A1E"/>
<circle cx="739.00" cy="121.9" r="1.5" fill="#D88A1E"/>
<circle cx="745.58" cy="121.9" r="1.5" fill="#D88A1E"/>
<circle cx="752.16" cy="121.9" r="1.5" fill="#D88A1E"/>
<circle cx="758.74" cy="121.9" r="1.5" fill="#D88A1E"/>
<circle cx="765.32" cy="121.9" r="1.5" fill="#D88A1E"/>
<circle cx="771.90" cy="121.9" r="1.5" fill="#D88A1E"/>
<circle cx="778.48" cy="121.9" r="1.5" fill="#D88A1E"/>
<g>
<rect x="81.00" y="164.40" width="143.00" height="144.90" fill="#2b2b2c"/>
<rect x="81.00" y="164.40" width="143.00" height="23.50" fill="#555557"/>
<rect x="81.00" y="164.40" width="143.00" height="1.20" fill="#6a6a6a"/>
<path d="M81,187.6 H86.4 V191 Q86.4,192.6 84.9,192.6 H82.5 Q81,192.6 81,191 Z" fill="#b9b9b9"/>
<path d="M87.3,187.6 H100.3 V191 Q100.3,192.6 98.8,192.6 H88.8 Q87.3,192.6 87.3,191 Z" fill="#b9b9b9"/>
<path d="M102.1,187.6 H115.1 V191 Q115.1,192.6 113.6,192.6 H103.6 Q102.1,192.6 102.1,191 Z" fill="#b9b9b9"/>
<path d="M117,187.6 H130 V191 Q130,192.6 128.5,192.6 H118.5 Q117,192.6 117,191 Z" fill="#b9b9b9"/>
<path d="M131.8,187.6 H144.8 V191 Q144.8,192.6 143.3,192.6 H133.3 Q131.8,192.6 131.8,191 Z" fill="#b9b9b9"/>
<path d="M147,187.6 H224 V191 Q224,192.6 222.5,192.6 H148.5 Q147,192.6 147,191 Z" fill="#b9b9b9"/>
<polygon points="81,198 89.5,198 89.5,205.4 86,215 86,219.3 81,219.3" fill="#b4b4b4"/>
<polygon points="81,205.4 89.3,205.4 86.3,214 81,214" fill="#e2e2e2"/>
<rect x="81.00" y="228.60" width="8.50" height="7.40" fill="#b0b0b0"/>
<polygon points="174.3,192.4 193.8,192.4 194.7,196 194.7,206.3 195.3,215.6 190,216.5 189,222 190.5,227.7 196.6,228.5 196.6,240 191,242.5 179,242.5 174.3,240 174.3,228.5 178,227.7 179,222 177.5,216.5 173,215.6 173.4,206.3 173.4,196" fill="#a9a9a9"/>
<rect x="173.00" y="206.30" width="22.30" height="9.30" fill="#e6e6e6"/>
<rect x="152.00" y="228.60" width="13.00" height="7.40" fill="#b0b0b0"/>
<rect x="150.20" y="243.60" width="12.40" height="2.60" fill="#a8a8a8"/>
<rect x="170.60" y="243.60" width="25.90" height="2.60" fill="#a8a8a8"/>
<rect x="204.50" y="243.60" width="12.50" height="2.60" fill="#a8a8a8"/>
<polygon points="98.5,257 224,257 224,269.4 94,269.4" fill="#4a4a4c"/>
<rect x="105.15" y="247.40" width="0.90" height="1.20" fill="#bcbcbc"/>
<rect x="105.15" y="249.60" width="0.90" height="1.20" fill="#bcbcbc"/>
<rect x="105.15" y="251.90" width="0.90" height="1.20" fill="#bcbcbc"/>
<rect x="105.15" y="254.40" width="0.90" height="1.20" fill="#bcbcbc"/>
<rect x="109.65" y="247.40" width="0.90" height="1.20" fill="#bcbcbc"/>
<rect x="109.65" y="249.60" width="0.90" height="1.20" fill="#bcbcbc"/>
<rect x="109.65" y="251.90" width="0.90" height="1.20" fill="#bcbcbc"/>
<rect x="109.65" y="254.40" width="0.90" height="1.20" fill="#bcbcbc"/>
<rect x="114.15" y="247.40" width="0.90" height="1.20" fill="#bcbcbc"/>
<rect x="114.15" y="249.60" width="0.90" height="1.20" fill="#bcbcbc"/>
<rect x="114.15" y="251.90" width="0.90" height="1.20" fill="#bcbcbc"/>
<rect x="114.15" y="254.40" width="0.90" height="1.20" fill="#bcbcbc"/>
<rect x="118.65" y="247.40" width="0.90" height="1.20" fill="#bcbcbc"/>
<rect x="118.65" y="249.60" width="0.90" height="1.20" fill="#bcbcbc"/>
<rect x="118.65" y="251.90" width="0.90" height="1.20" fill="#bcbcbc"/>
<rect x="118.65" y="254.40" width="0.90" height="1.20" fill="#bcbcbc"/>
<rect x="123.15" y="247.40" width="0.90" height="1.20" fill="#bcbcbc"/>
<rect x="123.15" y="249.60" width="0.90" height="1.20" fill="#bcbcbc"/>
<rect x="123.15" y="251.90" width="0.90" height="1.20" fill="#bcbcbc"/>
<rect x="123.15" y="254.40" width="0.90" height="1.20" fill="#bcbcbc"/>
<rect x="127.65" y="247.40" width="0.90" height="1.20" fill="#bcbcbc"/>
<rect x="127.65" y="249.60" width="0.90" height="1.20" fill="#bcbcbc"/>
<rect x="127.65" y="251.90" width="0.90" height="1.20" fill="#bcbcbc"/>
<rect x="127.65" y="254.40" width="0.90" height="1.20" fill="#bcbcbc"/>
<rect x="132.15" y="247.40" width="0.90" height="1.20" fill="#bcbcbc"/>
<rect x="132.15" y="249.60" width="0.90" height="1.20" fill="#bcbcbc"/>
<rect x="132.15" y="251.90" width="0.90" height="1.20" fill="#bcbcbc"/>
<rect x="132.15" y="254.40" width="0.90" height="1.20" fill="#bcbcbc"/>
<rect x="136.65" y="247.40" width="0.90" height="1.20" fill="#bcbcbc"/>
<rect x="136.65" y="249.60" width="0.90" height="1.20" fill="#bcbcbc"/>
<rect x="136.65" y="251.90" width="0.90" height="1.20" fill="#bcbcbc"/>
<rect x="136.65" y="254.40" width="0.90" height="1.20" fill="#bcbcbc"/>
<rect x="142.00" y="248.10" width="27.00" height="1.00" fill="#c2c2c2"/>
<rect x="142.00" y="252.90" width="27.00" height="1.00" fill="#c2c2c2"/>
<rect x="143.00" y="249.10" width="0.70" height="1.40" fill="#9a9a9a"/>
<rect x="143.00" y="251.50" width="0.70" height="1.40" fill="#9a9a9a"/>
<rect x="145.60" y="249.10" width="0.70" height="1.40" fill="#9a9a9a"/>
<rect x="145.60" y="251.50" width="0.70" height="1.40" fill="#9a9a9a"/>
<rect x="148.20" y="249.10" width="0.70" height="1.40" fill="#9a9a9a"/>
<rect x="148.20" y="251.50" width="0.70" height="1.40" fill="#9a9a9a"/>
<rect x="150.80" y="249.10" width="0.70" height="1.40" fill="#9a9a9a"/>
<rect x="150.80" y="251.50" width="0.70" height="1.40" fill="#9a9a9a"/>
<rect x="153.40" y="249.10" width="0.70" height="1.40" fill="#9a9a9a"/>
<rect x="153.40" y="251.50" width="0.70" height="1.40" fill="#9a9a9a"/>
<rect x="156.00" y="249.10" width="0.70" height="1.40" fill="#9a9a9a"/>
<rect x="156.00" y="251.50" width="0.70" height="1.40" fill="#9a9a9a"/>
<rect x="158.60" y="249.10" width="0.70" height="1.40" fill="#9a9a9a"/>
<rect x="158.60" y="251.50" width="0.70" height="1.40" fill="#9a9a9a"/>
<rect x="161.20" y="249.10" width="0.70" height="1.40" fill="#9a9a9a"/>
<rect x="161.20" y="251.50" width="0.70" height="1.40" fill="#9a9a9a"/>
<rect x="163.80" y="249.10" width="0.70" height="1.40" fill="#9a9a9a"/>
<rect x="163.80" y="251.50" width="0.70" height="1.40" fill="#9a9a9a"/>
<rect x="166.40" y="249.10" width="0.70" height="1.40" fill="#9a9a9a"/>
<rect x="166.40" y="251.50" width="0.70" height="1.40" fill="#9a9a9a"/>
<rect x="170.60" y="248.10" width="39.70" height="1.00" fill="#c2c2c2"/>
<rect x="170.60" y="252.90" width="39.70" height="1.00" fill="#c2c2c2"/>
<rect x="171.60" y="249.10" width="0.70" height="1.40" fill="#9a9a9a"/>
<rect x="171.60" y="251.50" width="0.70" height="1.40" fill="#9a9a9a"/>
<rect x="174.20" y="249.10" width="0.70" height="1.40" fill="#9a9a9a"/>
<rect x="174.20" y="251.50" width="0.70" height="1.40" fill="#9a9a9a"/>
<rect x="176.80" y="249.10" width="0.70" height="1.40" fill="#9a9a9a"/>
<rect x="176.80" y="251.50" width="0.70" height="1.40" fill="#9a9a9a"/>
<rect x="179.40" y="249.10" width="0.70" height="1.40" fill="#9a9a9a"/>
<rect x="179.40" y="251.50" width="0.70" height="1.40" fill="#9a9a9a"/>
<rect x="182.00" y="249.10" width="0.70" height="1.40" fill="#9a9a9a"/>
<rect x="182.00" y="251.50" width="0.70" height="1.40" fill="#9a9a9a"/>
<rect x="184.60" y="249.10" width="0.70" height="1.40" fill="#9a9a9a"/>
<rect x="184.60" y="251.50" width="0.70" height="1.40" fill="#9a9a9a"/>
<rect x="187.20" y="249.10" width="0.70" height="1.40" fill="#9a9a9a"/>
<rect x="187.20" y="251.50" width="0.70" height="1.40" fill="#9a9a9a"/>
<rect x="189.80" y="249.10" width="0.70" height="1.40" fill="#9a9a9a"/>
<rect x="189.80" y="251.50" width="0.70" height="1.40" fill="#9a9a9a"/>
<rect x="192.40" y="249.10" width="0.70" height="1.40" fill="#9a9a9a"/>
<rect x="192.40" y="251.50" width="0.70" height="1.40" fill="#9a9a9a"/>
<rect x="195.00" y="249.10" width="0.70" height="1.40" fill="#9a9a9a"/>
<rect x="195.00" y="251.50" width="0.70" height="1.40" fill="#9a9a9a"/>
<rect x="197.60" y="249.10" width="0.70" height="1.40" fill="#9a9a9a"/>
<rect x="197.60" y="251.50" width="0.70" height="1.40" fill="#9a9a9a"/>
<rect x="200.20" y="249.10" width="0.70" height="1.40" fill="#9a9a9a"/>
<rect x="200.20" y="251.50" width="0.70" height="1.40" fill="#9a9a9a"/>
<rect x="202.80" y="249.10" width="0.70" height="1.40" fill="#9a9a9a"/>
<rect x="202.80" y="251.50" width="0.70" height="1.40" fill="#9a9a9a"/>
<rect x="205.40" y="249.10" width="0.70" height="1.40" fill="#9a9a9a"/>
<rect x="205.40" y="251.50" width="0.70" height="1.40" fill="#9a9a9a"/>
<rect x="208.00" y="249.10" width="0.70" height="1.40" fill="#9a9a9a"/>
<rect x="208.00" y="251.50" width="0.70" height="1.40" fill="#9a9a9a"/>
<rect x="211.50" y="248.10" width="12.50" height="1.00" fill="#c2c2c2"/>
<rect x="211.50" y="252.90" width="12.50" height="1.00" fill="#c2c2c2"/>
<rect x="212.50" y="249.10" width="0.70" height="1.40" fill="#9a9a9a"/>
<rect x="212.50" y="251.50" width="0.70" height="1.40" fill="#9a9a9a"/>
<rect x="215.10" y="249.10" width="0.70" height="1.40" fill="#9a9a9a"/>
<rect x="215.10" y="251.50" width="0.70" height="1.40" fill="#9a9a9a"/>
<rect x="217.70" y="249.10" width="0.70" height="1.40" fill="#9a9a9a"/>
<rect x="217.70" y="251.50" width="0.70" height="1.40" fill="#9a9a9a"/>
<rect x="220.30" y="249.10" width="0.70" height="1.40" fill="#9a9a9a"/>
<rect x="220.30" y="251.50" width="0.70" height="1.40" fill="#9a9a9a"/>
<rect x="222.90" y="249.10" width="0.70" height="1.40" fill="#9a9a9a"/>
<rect x="222.90" y="251.50" width="0.70" height="1.40" fill="#9a9a9a"/>
<rect x="81.00" y="273.60" width="143.00" height="9.20" fill="#acacac"/>
<rect x="81.00" y="296.10" width="48.70" height="9.80" fill="#ababab"/>
</g>
<rect x="582.20" y="210.30" width="274.60" height="83.10" fill="#3b3b3d"/>
<rect x="582.20" y="210.30" width="267.80" height="40.70" fill="#6b6b6d"/>
<rect x="582.20" y="251.60" width="267.80" height="1.50" fill="#8a8a8a"/>
<text x="711.3" y="225.6" class="tiny" fill="#f2f2f2" text-anchor="middle" font-weight="bold" font-size="7">Si die</text>
<text x="583.3" y="248.4" class="tiny" fill="#e0e0e0" font-weight="bold" font-size="4.6" textLength="35.6" lengthAdjust="spacingAndGlyphs">130um bump pitch</text>
<text x="711" y="248.8" class="tiny" fill="#e0e0e0" font-weight="bold" font-size="4.6" textLength="33" lengthAdjust="spacingAndGlyphs">55um bump pitch</text>
<rect x="639.00" y="253.10" width="5.20" height="1.90" fill="#d8d8d8"/>
<ellipse cx="641.60" cy="258.2" rx="3.4" ry="4.1" fill="#ececec"/>
<rect x="640.70" y="261.00" width="1.80" height="6.50" fill="#c8c8c8"/>
<rect x="639.00" y="264.60" width="5.20" height="2.20" fill="#c4c4c4"/>
<rect x="633.00" y="266.00" width="1.80" height="1.90" fill="#c4c4c4"/>
<rect x="654.65" y="253.10" width="5.20" height="1.90" fill="#d8d8d8"/>
<ellipse cx="657.25" cy="258.2" rx="3.4" ry="4.1" fill="#ececec"/>
<rect x="656.35" y="261.00" width="1.80" height="6.50" fill="#c8c8c8"/>
<rect x="654.65" y="264.60" width="5.20" height="2.20" fill="#c4c4c4"/>
<rect x="648.65" y="266.00" width="1.80" height="1.90" fill="#c4c4c4"/>
<rect x="670.30" y="253.10" width="5.20" height="1.90" fill="#d8d8d8"/>
<ellipse cx="672.90" cy="258.2" rx="3.4" ry="4.1" fill="#ececec"/>
<rect x="672.00" y="261.00" width="1.80" height="6.50" fill="#c8c8c8"/>
<rect x="670.30" y="264.60" width="5.20" height="2.20" fill="#c4c4c4"/>
<rect x="664.30" y="266.00" width="1.80" height="1.90" fill="#c4c4c4"/>
<rect x="685.95" y="253.10" width="5.20" height="1.90" fill="#d8d8d8"/>
<ellipse cx="688.55" cy="258.2" rx="3.4" ry="4.1" fill="#ececec"/>
<rect x="687.65" y="261.00" width="1.80" height="6.50" fill="#c8c8c8"/>
<rect x="685.95" y="264.60" width="5.20" height="2.20" fill="#c4c4c4"/>
<rect x="679.95" y="266.00" width="1.80" height="1.90" fill="#c4c4c4"/>
<rect x="701.60" y="253.10" width="5.20" height="1.90" fill="#d8d8d8"/>
<ellipse cx="704.20" cy="258.2" rx="3.4" ry="4.1" fill="#ececec"/>
<rect x="703.30" y="261.00" width="1.80" height="6.50" fill="#c8c8c8"/>
<rect x="701.60" y="264.60" width="5.20" height="2.20" fill="#c4c4c4"/>
<rect x="695.60" y="266.00" width="1.80" height="1.90" fill="#c4c4c4"/>
<rect x="717.25" y="253.10" width="5.20" height="1.90" fill="#d8d8d8"/>
<ellipse cx="719.85" cy="258.2" rx="3.4" ry="4.1" fill="#ececec"/>
<rect x="718.95" y="261.00" width="1.80" height="6.50" fill="#c8c8c8"/>
<rect x="717.25" y="264.60" width="5.20" height="2.20" fill="#c4c4c4"/>
<rect x="711.25" y="266.00" width="1.80" height="1.90" fill="#c4c4c4"/>
<rect x="732.90" y="253.10" width="5.20" height="1.90" fill="#d8d8d8"/>
<ellipse cx="735.50" cy="258.2" rx="3.4" ry="4.1" fill="#ececec"/>
<rect x="734.60" y="261.00" width="1.80" height="6.50" fill="#c8c8c8"/>
<rect x="732.90" y="264.60" width="5.20" height="2.20" fill="#c4c4c4"/>
<rect x="726.90" y="266.00" width="1.80" height="1.90" fill="#c4c4c4"/>
<rect x="748.55" y="253.10" width="5.20" height="1.90" fill="#d8d8d8"/>
<ellipse cx="751.15" cy="258.2" rx="3.4" ry="4.1" fill="#ececec"/>
<rect x="750.25" y="261.00" width="1.80" height="6.50" fill="#c8c8c8"/>
<rect x="748.55" y="264.60" width="5.20" height="2.20" fill="#c4c4c4"/>
<rect x="742.55" y="266.00" width="1.80" height="1.90" fill="#c4c4c4"/>
<rect x="764.20" y="253.10" width="5.20" height="1.90" fill="#d8d8d8"/>
<ellipse cx="766.80" cy="258.2" rx="3.4" ry="4.1" fill="#ececec"/>
<rect x="765.90" y="261.00" width="1.80" height="6.50" fill="#c8c8c8"/>
<rect x="764.20" y="264.60" width="5.20" height="2.20" fill="#c4c4c4"/>
<rect x="758.20" y="266.00" width="1.80" height="1.90" fill="#c4c4c4"/>
<rect x="779.85" y="253.10" width="5.20" height="1.90" fill="#d8d8d8"/>
<ellipse cx="782.45" cy="258.2" rx="3.4" ry="4.1" fill="#ececec"/>
<rect x="781.55" y="261.00" width="1.80" height="6.50" fill="#c8c8c8"/>
<rect x="779.85" y="264.60" width="5.20" height="2.20" fill="#c4c4c4"/>
<rect x="773.85" y="266.00" width="1.80" height="1.90" fill="#c4c4c4"/>
<rect x="795.50" y="253.10" width="5.20" height="1.90" fill="#d8d8d8"/>
<ellipse cx="798.10" cy="258.2" rx="3.4" ry="4.1" fill="#ececec"/>
<rect x="797.20" y="261.00" width="1.80" height="6.50" fill="#c8c8c8"/>
<rect x="795.50" y="264.60" width="5.20" height="2.20" fill="#c4c4c4"/>
<rect x="789.50" y="266.00" width="1.80" height="1.90" fill="#c4c4c4"/>
<rect x="811.15" y="253.10" width="5.20" height="1.90" fill="#d8d8d8"/>
<ellipse cx="813.75" cy="258.2" rx="3.4" ry="4.1" fill="#ececec"/>
<rect x="812.85" y="261.00" width="1.80" height="6.50" fill="#c8c8c8"/>
<rect x="811.15" y="264.60" width="5.20" height="2.20" fill="#c4c4c4"/>
<rect x="805.15" y="266.00" width="1.80" height="1.90" fill="#c4c4c4"/>
<rect x="826.80" y="253.10" width="5.20" height="1.90" fill="#d8d8d8"/>
<ellipse cx="829.40" cy="258.2" rx="3.4" ry="4.1" fill="#ececec"/>
<rect x="828.50" y="261.00" width="1.80" height="6.50" fill="#c8c8c8"/>
<rect x="826.80" y="264.60" width="5.20" height="2.20" fill="#c4c4c4"/>
<rect x="820.80" y="266.00" width="1.80" height="1.90" fill="#c4c4c4"/>
<path d="M586.2,256 H602.5 L600.5,261 L599.6,266 L601,267.4 L599.6,269 V272.3 L601,273.9 L599.6,275.5 V279.2 L601.5,280 V281.3 H587 V280 L589,279.2 V275.5 L587.6,273.9 L589,272.3 V269 L587.6,267.4 L589,266 L588.2,261 Z" fill="#c9c9c9"/>
<rect x="586.50" y="256.00" width="15.50" height="2.50" fill="#e8e8e8"/>
<rect x="630.60" y="270.60" width="225.40" height="10.00" fill="#777779" stroke="#c42020" stroke-width="1.3"/>
<rect x="632.00" y="272.00" width="223.00" height="3.00" fill="#858587"/>
<text x="609.2" y="278.2" class="tiny" fill="#d8d8d8" font-size="4.8" font-weight="bold" textLength="20" lengthAdjust="spacingAndGlyphs">Bridge die</text>
<rect x="609.20" y="272.20" width="4.40" height="1.20" fill="#bbb"/>
<rect x="622.60" y="280.20" width="7.40" height="1.00" fill="#bbb"/>
<rect x="621.80" y="286.60" width="37.60" height="1.70" fill="#c4c4c4"/>
<rect x="690.00" y="286.60" width="92.00" height="1.70" fill="#c4c4c4"/>
<rect x="801.70" y="286.60" width="54.30" height="1.70" fill="#c4c4c4"/>
<rect x="838.00" y="266.00" width="18.80" height="2.30" fill="#bdbdbd"/>
<rect x="260.00" y="209.70" width="296.00" height="38.80" fill="#ffffff"/>
<text x="407.8" y="225.8" class="lbl" text-anchor="middle" textLength="236" lengthAdjust="spacingAndGlyphs">FCBGA Substrate with bridge Silicon for local</text>
<text x="407.8" y="240.6" class="lbl" text-anchor="middle" textLength="190" lengthAdjust="spacingAndGlyphs">interconnects between multiple die</text>
<rect x="48.60" y="315.60" width="244.90" height="24.30" fill="#ffffff"/>
<text x="58.6" y="331.8" class="lbl" textLength="225.7" lengthAdjust="spacingAndGlyphs">Fine Pitch Vias and Flip Chip Interconnects</text>
<rect x="663.00" y="301.90" width="112.30" height="23.00" fill="#ffffff"/>
<text x="672" y="317.6" class="lbl" textLength="94" lengthAdjust="spacingAndGlyphs">Embedded Bridge</text>
<g fill="none" stroke="#000" stroke-width="2.6" stroke-linecap="round">
<ellipse cx="179.7" cy="111.9" rx="22.8" ry="33" transform="rotate(2 179.7 111.9)" stroke-width="2.4"/>
<line x1="161.5" y1="91" x2="81" y2="164" stroke-width="2.4"/>
<line x1="202.8" y1="112" x2="224" y2="164" stroke-width="2.4"/>
<ellipse cx="676.6" cy="122.6" rx="62.3" ry="33.5" stroke-width="2.5"/>
<line x1="616" y1="124" x2="584.5" y2="210.5" stroke-width="2.2"/>
<line x1="737.6" y1="113.7" x2="847.8" y2="209.4" stroke-width="2.2"/>
<line x1="350" y1="210" x2="284" y2="144" stroke-width="1.9"/>
</g>
<polygon points="279.3,139.4 282.35,146.96 286.87,142.44" fill="#000"/>
<path d="M79.40,363.8 A19.3,22.5 0 1 0 115.80,363.8 Z" fill="url(#ball)" stroke="#6a6a6a" stroke-width="1"/>
<rect x="80.30" y="353.60" width="34.60" height="10.20" fill="#FF9A0E" stroke="#685812" stroke-width="0.8"/>
<path d="M139.60,363.8 A19.3,22.5 0 1 0 176.00,363.8 Z" fill="url(#ball)" stroke="#6a6a6a" stroke-width="1"/>
<rect x="140.50" y="353.60" width="34.60" height="10.20" fill="#FF9A0E" stroke="#685812" stroke-width="0.8"/>
<path d="M201.10,363.8 A19.3,22.5 0 1 0 237.50,363.8 Z" fill="url(#ball)" stroke="#6a6a6a" stroke-width="1"/>
<rect x="202.00" y="353.60" width="34.60" height="10.20" fill="#FF9A0E" stroke="#685812" stroke-width="0.8"/>
<path d="M262.80,363.8 A19.3,22.5 0 1 0 299.20,363.8 Z" fill="url(#ball)" stroke="#6a6a6a" stroke-width="1"/>
<rect x="263.70" y="353.60" width="34.60" height="10.20" fill="#FF9A0E" stroke="#685812" stroke-width="0.8"/>
<path d="M324.20,363.8 A19.3,22.5 0 1 0 360.60,363.8 Z" fill="url(#ball)" stroke="#6a6a6a" stroke-width="1"/>
<rect x="325.10" y="353.60" width="34.60" height="10.20" fill="#FF9A0E" stroke="#685812" stroke-width="0.8"/>
<path d="M385.80,363.8 A19.3,22.5 0 1 0 422.20,363.8 Z" fill="url(#ball)" stroke="#6a6a6a" stroke-width="1"/>
<rect x="386.70" y="353.60" width="34.60" height="10.20" fill="#FF9A0E" stroke="#685812" stroke-width="0.8"/>
<path d="M446.90,363.8 A19.3,22.5 0 1 0 483.30,363.8 Z" fill="url(#ball)" stroke="#6a6a6a" stroke-width="1"/>
<rect x="447.80" y="353.60" width="34.60" height="10.20" fill="#FF9A0E" stroke="#685812" stroke-width="0.8"/>
<path d="M506.70,363.8 A19.3,22.5 0 1 0 543.10,363.8 Z" fill="url(#ball)" stroke="#6a6a6a" stroke-width="1"/>
<rect x="507.60" y="353.60" width="34.60" height="10.20" fill="#FF9A0E" stroke="#685812" stroke-width="0.8"/>
<path d="M568.40,363.8 A19.3,22.5 0 1 0 604.80,363.8 Z" fill="url(#ball)" stroke="#6a6a6a" stroke-width="1"/>
<rect x="569.30" y="353.60" width="34.60" height="10.20" fill="#FF9A0E" stroke="#685812" stroke-width="0.8"/>
<path d="M630.80,363.8 A19.3,22.5 0 1 0 667.20,363.8 Z" fill="url(#ball)" stroke="#6a6a6a" stroke-width="1"/>
<rect x="631.70" y="353.60" width="34.60" height="10.20" fill="#FF9A0E" stroke="#685812" stroke-width="0.8"/>
<path d="M692.30,363.8 A19.3,22.5 0 1 0 728.70,363.8 Z" fill="url(#ball)" stroke="#6a6a6a" stroke-width="1"/>
<rect x="693.20" y="353.60" width="34.60" height="10.20" fill="#FF9A0E" stroke="#685812" stroke-width="0.8"/>
<path d="M753.90,363.8 A19.3,22.5 0 1 0 790.30,363.8 Z" fill="url(#ball)" stroke="#6a6a6a" stroke-width="1"/>
<rect x="754.80" y="353.60" width="34.60" height="10.20" fill="#FF9A0E" stroke="#685812" stroke-width="0.8"/>
<path d="M815.20,363.8 A19.3,22.5 0 1 0 851.60,363.8 Z" fill="url(#ball)" stroke="#6a6a6a" stroke-width="1"/>
<rect x="816.10" y="353.60" width="34.60" height="10.20" fill="#FF9A0E" stroke="#685812" stroke-width="0.8"/>
</svg>
</body></html>
